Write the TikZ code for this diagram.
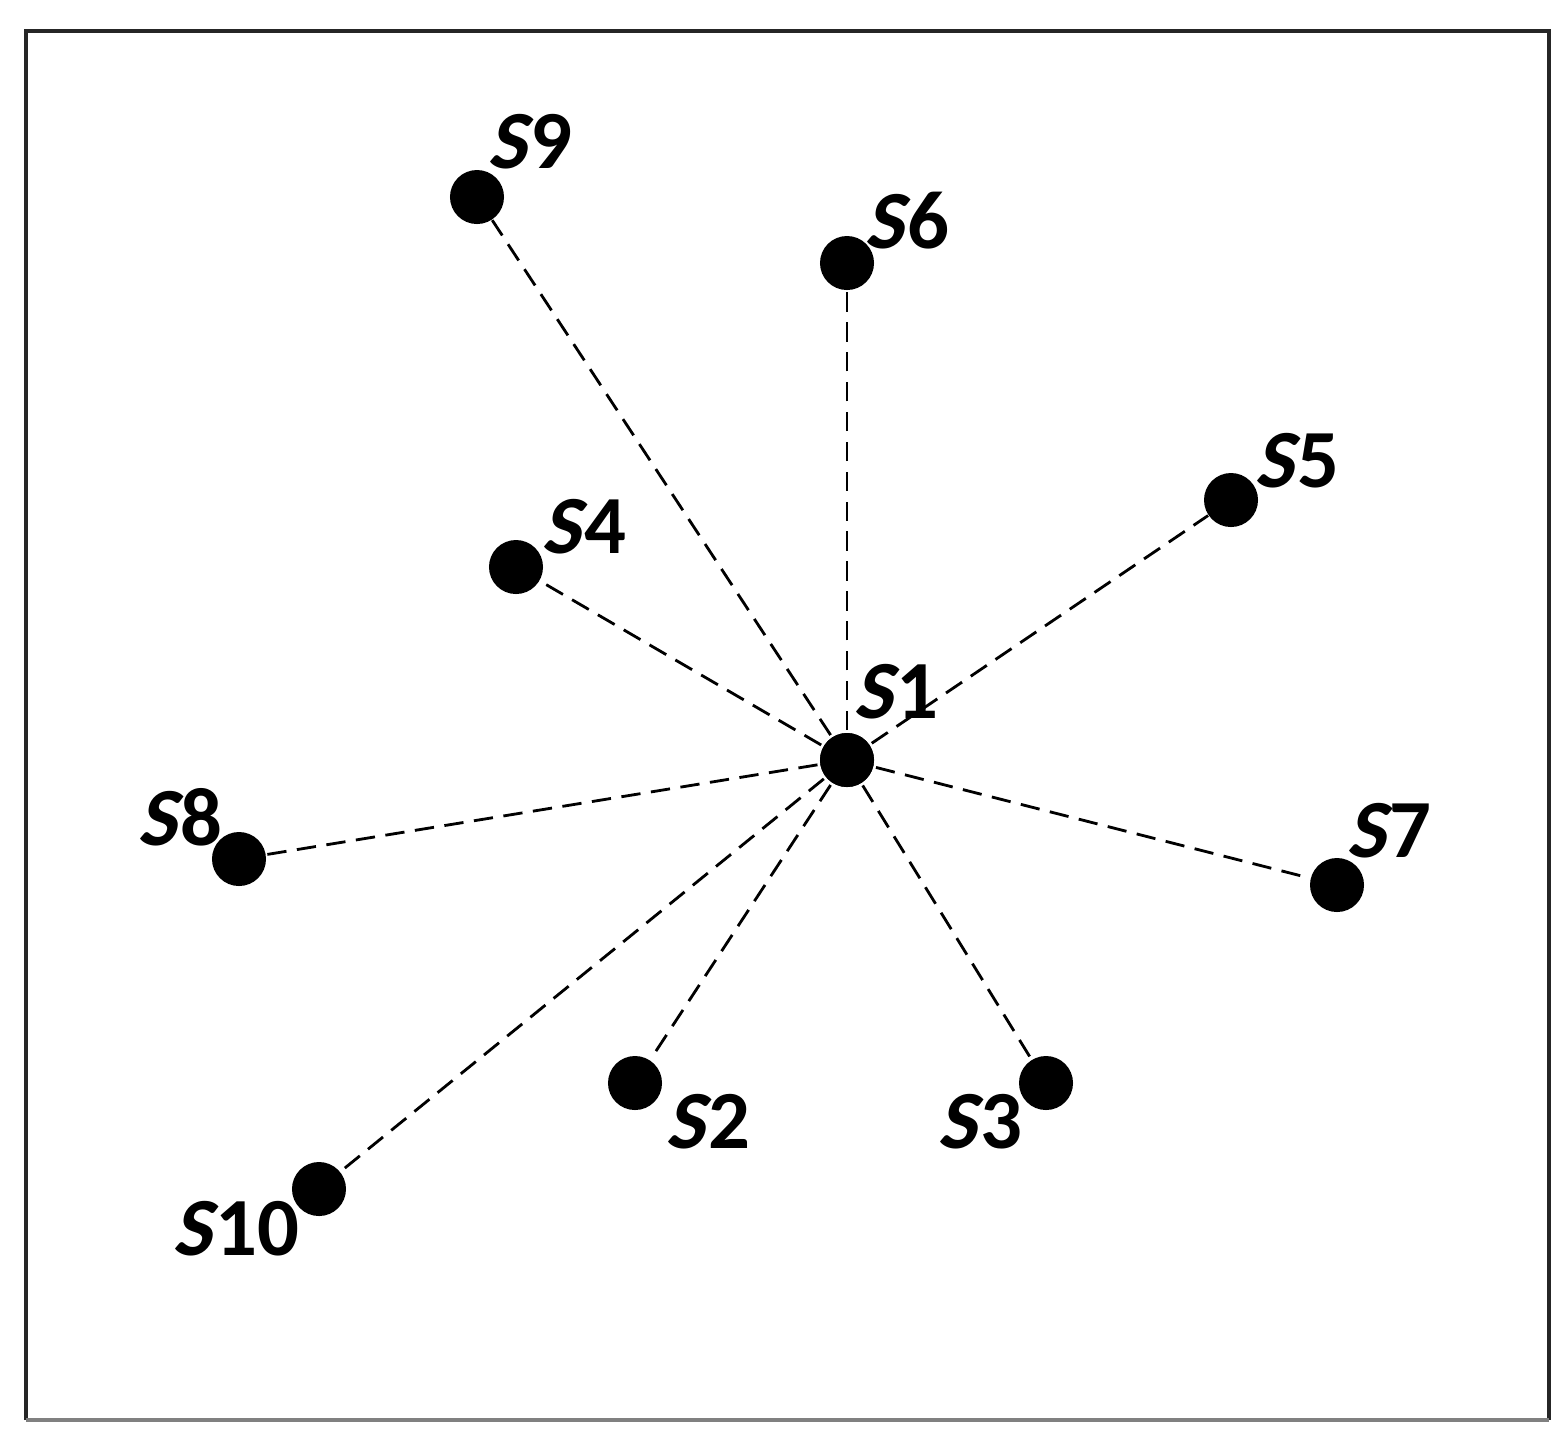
\documentclass[tikz,border=0pt]{standalone}
\usepackage{fontspec}
\setmainfont{Carlito}
\newfontfamily\slantS{Carlito}[FakeSlant=0.22]
\newcommand{\Sx}{{\slantS\bfseries S}\kern1.2pt}
\begin{document}
\begin{tikzpicture}[x=0.01cm,y=-0.01cm,
  dot/.style={circle,fill=black,minimum size=0.54cm,inner sep=0pt},
  lbl/.style={font=\fontsize{23.5}{28}\selectfont\bfseries,inner sep=0pt},
  link/.style={dashed,dash pattern=on 5.5pt off 3pt,line width=0.8pt}]
\useasboundingbox (0,0) rectangle (1567,1438);
\draw[line width=1.1pt,black!85] (26,1420) -- (26,31) -- (1549,31) -- (1549,1420);
\draw[line width=1.4pt,black!50] (26,1420) -- (1549,1420);
\node[dot] (s1) at (847,760) {};
\node[dot] (s9) at (477,197) {};
\node[dot] (s6) at (847,263) {};
\node[dot] (s5) at (1231,500) {};
\node[dot] (s4) at (516,567) {};
\node[dot] (s8) at (239,859) {};
\node[dot] (s7) at (1337,885) {};
\node[dot] (s2) at (635,1083) {};
\node[dot] (s3) at (1046,1083) {};
\node[dot] (s10) at (319,1189) {};
\foreach \n in {s9,s6,s5,s4,s8,s7,s2,s3,s10}
  \draw[link] (s1.center) -- (\n);
\node[dot] at (s1) {};
\node[lbl] (l1) at (896,692) {\Sx1};
\node[lbl] (l9) at (530,142) {\Sx9};
\node[lbl] (l6) at (907,221) {\Sx6};
\node[lbl] (l5) at (1297,461) {\Sx5};
\node[lbl] (l4) at (584,527) {\Sx4};
\node[lbl] (l8) at (180,817) {\Sx8};
\node[lbl] (l7) at (1389,831) {\Sx7};
\node[lbl] (l2) at (708,1122) {\Sx2};
\node[lbl] (l3) at (980,1122) {\Sx3};
\node[lbl] (l10) at (236,1229) {\Sx10};
\end{tikzpicture}
\end{document}
